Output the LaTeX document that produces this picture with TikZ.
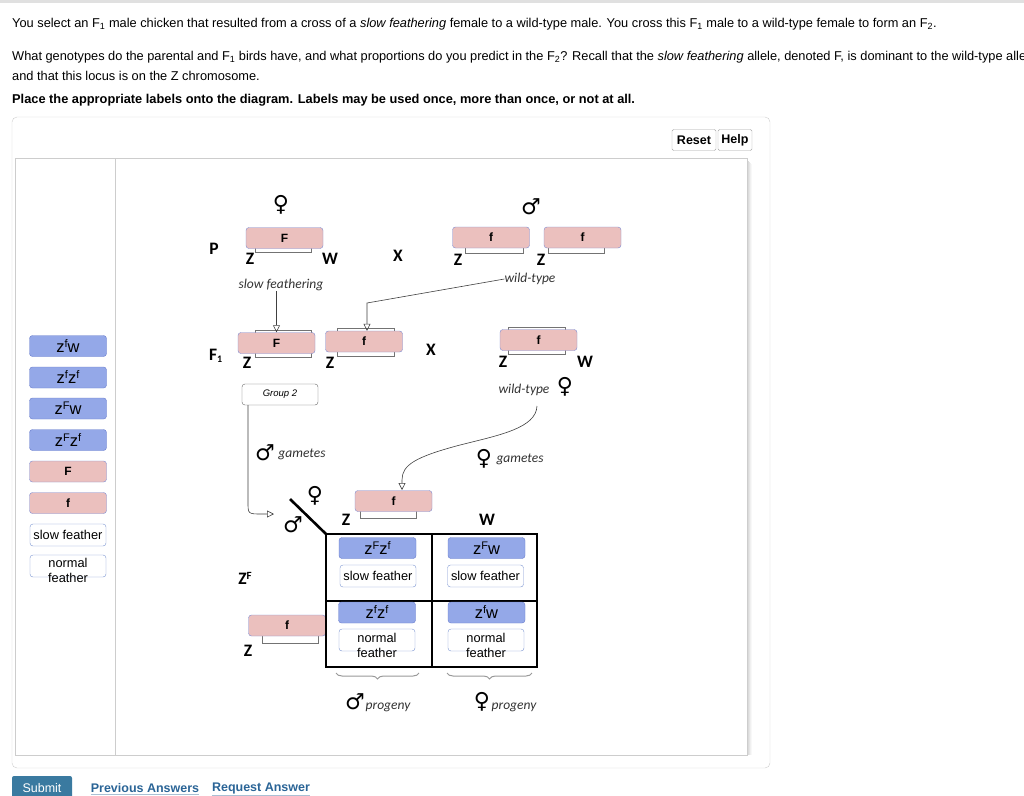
\documentclass[tikz,border=0pt]{standalone}
\usepackage{fontspec}
\setmainfont{Liberation Sans}
\newfontfamily\carl{Carlito}
\newfontfamily\dvs{DejaVu Sans}
\usetikzlibrary{arrows.meta,decorations.pathreplacing}
\definecolor{bfill}{RGB}{148,168,232}
\definecolor{bline}{RGB}{105,125,205}
\definecolor{pfill}{RGB}{235,192,190}
\definecolor{pline}{RGB}{125,140,210}
\definecolor{wline}{RGB}{125,150,210}
\definecolor{frame}{RGB}{205,205,205}
\definecolor{subm}{RGB}{58,122,160}
\definecolor{linkc}{RGB}{42,100,150}
\newcommand\geno[2]{z\raisebox{5pt}{\fontsize{11}{11}\selectfont #1}#2}
\tikzset{
 gbox/.style={draw=bline, fill=bfill, rounded corners=3pt, minimum width=77pt, minimum height=21pt, inner sep=0pt, font=\fontsize{16.5}{16}\selectfont},
 pbox/.style={draw=pline, fill=pfill, rounded corners=3pt, minimum width=77pt, minimum height=21pt, inner sep=0pt, font=\fontsize{12}{12}\selectfont\bfseries},
 wbox/.style={draw=wline, fill=white, rounded corners=3pt, minimum width=76pt, minimum height=22pt, inner sep=0pt, font=\fontsize{12.8}{14}\selectfont},
 wtext/.style={align=center, inner sep=0pt, font=\fontsize{12.8}{15}\selectfont},
 shelf/.style={draw=black!55, fill=white, line width=0.8pt},
 chrom/.style={inner sep=0pt, font=\carl\bfseries\fontsize{17.5}{17}\selectfont},
 note/.style={inner sep=0pt, font=\carl\itshape\fontsize{13.5}{14}\selectfont, text=black!80},
 gsym/.style={inner sep=0pt, font=\dvs\fontsize{22}{22}\selectfont},
 conn/.style={draw=black!75, line width=0.6pt},
 otip/.style={-{Triangle[open,length=7pt,width=7pt]}},
 pgrid/.style={line width=2.6pt, line cap=rect},
 body/.style={anchor=west, inner sep=0pt, font=\fontsize{12.8}{14}\selectfont},
 btn/.style={draw=black!35, fill=white, rounded corners=1.5pt, inner sep=0pt, minimum height=21pt, font=\fontsize{12.5}{13}\selectfont\bfseries},
}
\begin{document}
\begin{tikzpicture}[x=1pt,y=-1pt]
\useasboundingbox (0,0) rectangle (1024,795);
\begin{scope}
\clip (0,0) rectangle (1024,795);
\fill[black!12] (0,0) rectangle (1024,3);
% question text
\node[body] (t1) at (12,24) {You select an F\textsubscript{1} male chicken that resulted from a cross of a \textit{slow feathering} female to a wild-type male. You cross this F\textsubscript{1} male to a wild-type female to form an F\textsubscript{2}.};
\node[body] (t2) at (12,57) {What genotypes do the parental and F\textsubscript{1} birds have, and what proportions do you predict in the F\textsubscript{2}? Recall that the \textit{slow feathering} allele, denoted F, is dominant to the wild-type allele};
\node[body] (t3) at (12,76) {and that this locus is on the Z chromosome.};
\node[body, font=\fontsize{12.8}{14}\selectfont\bfseries] (t4) at (12,100) {Place the appropriate labels onto the diagram. Labels may be used once, more than once, or not at all.};

% outer frame
\draw[frame, rounded corners=5pt] (12,117) rectangle (770,768);
\node[btn, minimum width=44pt] (reset) at (694,140) {Reset};
\node[btn, minimum width=34pt] (help) at (735,140) {Help};
% inner frame with shadow
\foreach \i/\o in {1/0.35,2/0.25,3/0.15,4/0.07} \draw[black!40, opacity=\o] (747+\i,160+\i) -- (747+\i,755);
\draw[frame, fill=white] (15,158) rectangle (747,755);
\draw[frame] (115,158) -- (115,755);

% label palette
\node[gbox] (l1) at (68,346) {\geno{f}{w}};
\node[gbox] (l2) at (68,377.5) {\geno{f}{}\geno{f}{}};
\node[gbox] (l3) at (68,408.5) {\geno{F}{w}};
\node[gbox] (l4) at (68,440) {\geno{F}{}\geno{f}{}};
\node[pbox] (l5) at (68,471.5) {F};
\node[pbox] (l6) at (68,503) {f};
\node[wbox] (l7) at (68,535) {slow feather};
\node[wbox] (l8) at (68,566) {};
\node[wtext] (l8t) at (68,570) {normal\\feather};

% P generation
\node[gsym] (pfem) at (281,205) {♀};
\node[chrom] (P) at (214,249) {P};
\draw[shelf] (255,246) rectangle (311,252);
\node[pbox] (pF) at (284.5,238) {F};
\node[chrom] (pZ1) at (250,259) {Z};
\node[chrom] (pW) at (330,259) {W};
\node[chrom] (x1) at (398,256) {X};
\node[gsym] (pmal) at (531,207) {♂};
\draw[shelf] (465,246) rectangle (523,253);
\node[pbox] (pf1) at (491,237.5) {f};
\draw[shelf] (548,246) rectangle (604,253);
\node[pbox] (pf2) at (582.5,237.5) {f};
\node[chrom] (pZ2) at (458,260) {Z};
\node[chrom] (pZ3) at (541,260) {Z};
\node[note] (sf) at (281,285) {slow feathering};
\node[note] (wt1) at (530,279) {wild-type};

% F1 generation
\node[chrom] (F1) at (216,356) {F\textsubscript{\fontsize{10}{10}\selectfont 1}};
\draw[shelf] (255,330) rectangle (311,357);
\node[pbox] (f1F) at (276.5,343) {F};
\node[chrom] (f1Z1) at (247,363) {Z};
\draw[shelf] (337,328) rectangle (394,356);
\node[pbox] (f1f) at (364,341.5) {f};
\node[chrom] (f1Z2) at (330,363) {Z};
\node[chrom] (x2) at (431,350) {X};
\draw[shelf] (508,327) rectangle (565,354);
\node[pbox] (f1r) at (538.5,340) {f};
\node[chrom] (f1Z3) at (503,362) {Z};
\node[chrom] (f1W) at (585,362) {W};
\node[note] (wt2) at (524,390) {wild-type};
\node[gsym] (f1fem) at (565,387) {♀};
\node[draw=black!60, fill=white, rounded corners=3pt, minimum width=76pt, minimum height=21pt, inner sep=0pt, font=\fontsize{9.5}{10}\selectfont\itshape] (g2) at (280,394.5) {Group 2};

% connectors P -> F1
\draw[conn, otip] (sf.south -| f1F.north) -- (f1F.north);
\coordinate (bend1) at (367,303);
\draw[conn, otip] (wt1.west) -- (bend1) -- (bend1 |- f1f.north);

% gametes
\node[gsym] (mg) at (265,453) {♂};
\node[note] (mgt) at (302,454) {gametes};
\node[gsym] (fg) at (484,459) {♀};
\node[note] (fgt) at (520,459) {gametes};

% Punnett square
\node[gsym] (qfem) at (315,496) {♀};
\node[gsym] (qmal) at (293,525) {♂};
\draw[shelf] (360,508) rectangle (416,518);
\node[pbox] (gf) at (393.5,501) {f};
\node[chrom] (gZ) at (346,520) {Z};
\node[chrom] (gW) at (487,520) {W};
\node[chrom] (gZF) at (245,578) {Z\raisebox{5pt}{\fontsize{11}{11}\selectfont F}};
\draw[shelf] (262,633) rectangle (318,643);
\node[pbox] (lf) at (287,625.5) {f};
\node[chrom] (lZ) at (248,651) {Z};

\coordinate (gtl) at (326,534);
\coordinate (gbr) at (537,667);
\draw[pgrid] (gtl) rectangle (gbr);
\draw[pgrid] (432,534) -- (432,667);
\draw[pgrid] (326,601) -- (537,601);
\draw[pgrid] (291,500) -- (gtl);

\node[gbox] (c1g) at (377.5,548) {\geno{F}{}\geno{f}{}};
\node[wbox] (c1p) at (378,576) {slow feather};
\node[gbox] (c2g) at (486.5,548) {\geno{F}{w}};
\node[wbox] (c2p) at (485.5,576) {slow feather};
\node[gbox] (c3g) at (377,612.5) {\geno{f}{}\geno{f}{}};
\node[wbox] (c3p) at (377,640) {};
\node[wtext] (c3t) at (377,645) {normal\\feather};
\node[gbox] (c4g) at (486.5,612.5) {\geno{f}{w}};
\node[wbox] (c4p) at (486,640) {};
\node[wtext] (c4t) at (486,645) {normal\\feather};

% connectors to Punnett
\coordinate (g2a) at (248,405);
\coordinate (g2t) at (274,514);
\draw[conn, otip] (g2a) -- (248,502) .. controls (248,514) .. (262,514) -- (g2t);
\coordinate (cst) at (537,406);
\coordinate (gtip) at (402,490);
\draw[conn, otip] (cst) .. controls (536,428) and (500,435) .. (460,445) .. controls (415,457) and (402,465) .. (402,480) -- (gtip);

% braces and progeny
\draw[black!40, line width=1pt, decorate, decoration={brace, amplitude=6pt}] (419,673) -- (336,673);
\draw[black!40, line width=1pt, decorate, decoration={brace, amplitude=6pt}] (532,673) -- (447,673);
\node[gsym] (pm) at (355,702) {♂};
\node[note] (pmt) at (388,707) {progeny};
\node[gsym] (pf) at (482,702) {♀};
\node[note] (pft) at (514,707) {progeny};

% bottom buttons
\fill[subm, rounded corners=2pt] (12,776) rectangle (72,805);
\node[inner sep=0pt, text=white, font=\fontsize{12.5}{13}\selectfont] (sub) at (42,788) {Submit};
\node[inner sep=0pt, text=linkc, font=\fontsize{12.5}{13}\selectfont\bfseries] (prev) at (145,788) {Previous Answers};
\node[inner sep=0pt, text=linkc, font=\fontsize{12.5}{13}\selectfont\bfseries] (req) at (261,788) {Request Answer};
\draw[linkc!40, line width=0.8pt] ([yshift=-2pt]prev.south west) -- ([yshift=-2pt]prev.south east);
\draw[linkc!40, line width=0.8pt] ([yshift=-2pt]req.south west) -- ([yshift=-2pt]req.south east);
\end{scope}
\end{tikzpicture}
\end{document}
